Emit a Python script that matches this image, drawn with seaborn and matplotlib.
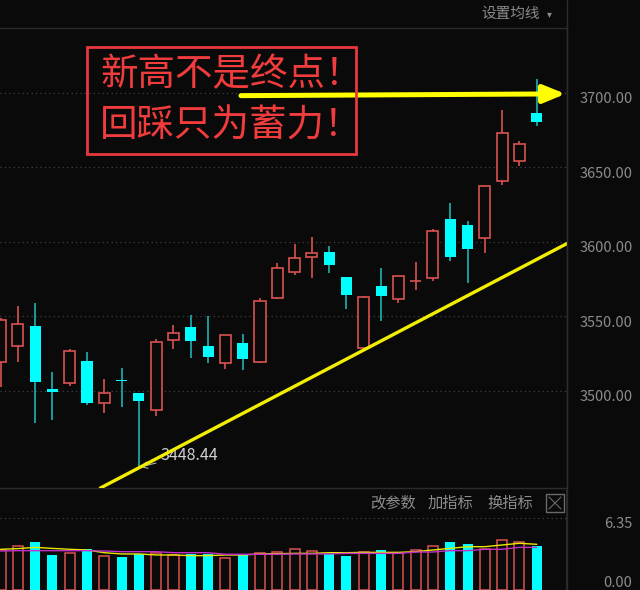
import numpy as np
import pandas as pd
import matplotlib
matplotlib.use("Agg")
import matplotlib.pyplot as plt
import matplotlib.transforms as mtransforms
from matplotlib.patches import Rectangle
from matplotlib.lines import Line2D
import seaborn as sns

# K线数据
opens = [3519.5, 3530.2, 3543.6, 3501.3, 3505.4, 3520.1, 3491.9, 3507.6,
         3498.7, 3487.2, 3534.2, 3543.0, 3530.2, 3518.8, 3532.2, 3519.5,
         3562.4, 3579.9, 3589.9, 3593.3, 3576.5, 3528.9, 3570.5, 3561.7,
         3573.6, 3575.8, 3615.4, 3611.4, 3602.7, 3640.9, 3654.4, 3686.6]
highs = [3549.0, 3557.0, 3559.1, 3512.8, 3528.2, 3526.2, 3508.1, 3515.4,
         3498.9, 3534.9, 3544.3, 3551.0, 3550.3, 3537.9, 3538.3, 3562.4,
         3585.9, 3598.7, 3603.4, 3597.3, 3576.8, 3563.8, 3582.6, 3577.5,
         3586.6, 3608.7, 3626.2, 3614.1, 3638.0, 3688.6, 3667.8, 3709.4]
lows = [3502.7, 3519.5, 3478.5, 3480.5, 3503.4, 3490.6, 3485.2, 3489.3,
        3448.44, 3483.2, 3528.2, 3522.1, 3518.8, 3514.8, 3514.1, 3518.8,
        3562.0, 3577.9, 3575.8, 3579.2, 3555.0, 3526.8, 3547.0, 3559.1,
        3567.8, 3573.8, 3587.2, 3572.5, 3592.6, 3638.3, 3651.0, 3677.9]
closes = [3547.7, 3545.0, 3506.0, 3499.3, 3526.8, 3491.9, 3498.7, 3507.0,
          3493.4, 3532.9, 3538.9, 3533.6, 3522.8, 3537.6, 3521.5, 3560.4,
          3582.6, 3589.3, 3592.6, 3584.6, 3564.4, 3563.1, 3563.8, 3577.2,
          3574.0, 3607.4, 3589.9, 3595.3, 3637.6, 3673.2, 3665.8, 3680.5]

# 成交量及均线
volume = [3.53, 3.88, 4.26, 3.09, 3.29, 3.59, 3.00, 2.88, 3.15, 3.24, 3.09,
          3.18, 3.18, 2.80, 3.18, 3.29, 3.38, 3.59, 3.44, 3.18, 3.03, 3.38,
          3.53, 3.29, 3.53, 3.88, 4.26, 4.06, 3.59, 4.41, 4.23, 3.91]
vol_ma_yellow = [3.59, 3.65, 3.76, 3.67, 3.59, 3.53, 3.29, 3.18, 3.18, 3.09,
                 3.09, 3.03, 3.03, 3.09, 3.09, 3.18, 3.20, 3.23, 3.23, 3.29,
                 3.29, 3.32, 3.32, 3.32, 3.38, 3.53, 3.67, 3.82, 3.82, 3.97,
                 4.12, 4.03]
vol_ma_purple = [3.44, 3.47, 3.47, 3.47, 3.47, 3.47, 3.44, 3.38, 3.38, 3.38,
                 3.29, 3.29, 3.29, 3.15, 3.15, 3.15, 3.15, 3.18, 3.18, 3.18,
                 3.23, 3.23, 3.23, 3.23, 3.35, 3.35, 3.47, 3.47, 3.59, 3.59,
                 3.76, 3.76]

price_ticks = [3500, 3550, 3600, 3650, 3700]
vol_ticks = [0.0, 6.35]

# 支撑线经过的两个低点
trend_a = (8, 3448.44)
trend_b = (21, 3527.5)
low_label = "3448.44"

title_lines = ["新高不是终点！", "回踩只为蓄力！"]
menu_labels = ["改参数", "加指标", "换指标"]
header_label = "设置均线"

BG = "#0a0a0a"
RED = "#d9534f"
CYAN = "#00ffff"
CYAN_WICK = "#1fb3b3"
GRAY = "#8c8c8c"
LINE = "#2c2c2c"
YELLOW = "#ffff00"

sns.set_theme(style="dark", rc={
    "figure.facecolor": BG,
    "axes.facecolor": BG,
    "axes.edgecolor": LINE,
    "grid.color": "#4a4a4a",
    "text.color": GRAY,
    "xtick.color": GRAY,
    "ytick.color": GRAY,
})
plt.rcParams["font.family"] = ["Noto Sans CJK SC", "DejaVu Sans"]

W, H = 640, 590
fig = plt.figure(figsize=(6.4, 5.9), dpi=100)


def box(x0, y0, x1, y1):
    return [x0 / W, 1 - y1 / H, (x1 - x0) / W, (y1 - y0) / H]


ax = fig.add_axes(box(0, 28, 567, 488))
axv = fig.add_axes(box(0, 490, 567, 590))

df = pd.DataFrame({"o": opens, "h": highs, "l": lows, "c": closes, "v": volume})
df["i"] = np.arange(len(df))
df["up"] = df["c"] >= df["o"]
df["top"] = df[["o", "c"]].max(axis=1)
df["bot"] = df[["o", "c"]].min(axis=1)

body_w = 0.64
up = df[df["up"]]
dn = df[~df["up"]]

# 阴线: 实心青色
ax.vlines(dn["i"], dn["l"], dn["h"], color=CYAN_WICK, lw=1.2, zorder=2)
ax.bar(dn["i"], (dn["top"] - dn["bot"]).clip(lower=0.4), bottom=dn["bot"],
       width=body_w, color=CYAN, lw=0, zorder=3)
# 阳线: 空心红色
ax.vlines(up["i"], up["top"], up["h"], color=RED, lw=1.2, zorder=2)
ax.vlines(up["i"], up["l"], up["bot"], color=RED, lw=1.2, zorder=2)
ax.bar(up["i"], (up["top"] - up["bot"]).clip(lower=0.4), bottom=up["bot"],
       width=body_w, facecolor=BG, edgecolor=RED, lw=1.2, zorder=3)

# 支撑线
ax.axline(trend_a, trend_b, color="#f2ee00", lw=2.4, zorder=4)

# 最低点标注
ax.annotate(low_label, xy=(trend_a[0] + 0.05, trend_a[1] + 0.6),
            xytext=(trend_a[0] + 1.25, trend_a[1] + 8.5),
            color="#d0d0d0", fontsize=11.5, ha="left", va="center",
            arrowprops=dict(arrowstyle="->", color="#b0b0b0", lw=0.8,
                            shrinkA=1, shrinkB=0))

# 新高箭头
ax.annotate("", xy=(32.66, 3699.4), xytext=(13.9, 3698.2),
            arrowprops=dict(arrowstyle="-|>,head_length=1.1,head_width=0.45",
                            color=YELLOW, lw=3.6, shrinkA=0, shrinkB=0),
            zorder=5)

ax.set_xlim(-0.03, 32.75)
ax.set_ylim(3434.9, 3743.6)
ax.set_xticks([])
ax.set_yticks(price_ticks)
ax.set_yticklabels([f"{t:.2f}" for t in price_ticks])
ax.grid(axis="y", color="#4a4a4a", linestyle=(0, (1, 3)), lw=0.8)
ax.grid(axis="x", visible=False)
ax.yaxis.tick_right()
ax.tick_params(axis="y", length=0, pad=47.5, labelsize=10.5, colors=GRAY)
shift = mtransforms.ScaledTranslation(0, -3.5 / 72, fig.dpi_scale_trans)
for lab in ax.get_yticklabels():
    lab.set_ha("right")
    lab.set_transform(lab.get_transform() + shift)
ax.spines["left"].set_visible(False)
for side in ["top", "bottom", "right"]:
    ax.spines[side].set_color(LINE)
    ax.spines[side].set_linewidth(1)

# 成交量
vup = df[df["up"]]
vdn = df[~df["up"]]
axv.bar(vdn["i"], vdn["v"], width=0.58, color=CYAN, lw=0, zorder=2)
axv.bar(vup["i"], vup["v"], width=0.58, facecolor=BG, edgecolor=RED,
        lw=1.1, zorder=2)
sns.lineplot(x=df["i"], y=vol_ma_yellow, ax=axv, color="#e8e800", lw=1.0,
             zorder=4)
sns.lineplot(x=df["i"], y=vol_ma_purple, ax=axv, color="#c030c8", lw=1.0,
             zorder=4)
axv.set_xlim(-0.03, 32.75)
axv.set_ylim(0, 8.82)
axv.set_xticks([])
axv.set_xlabel("")
axv.set_ylabel("")
axv.set_yticks(vol_ticks)
axv.set_yticklabels([f"{t:.2f}" for t in vol_ticks])
axv.grid(axis="y", color="#4a4a4a", linestyle=(0, (1, 3)), lw=0.8)
axv.grid(axis="x", visible=False)
axv.yaxis.tick_right()
axv.tick_params(axis="y", length=0, pad=47, labelsize=10.5, colors=GRAY)
vlabs = axv.get_yticklabels()
vlabs[0].set_va("bottom")
vlabs[1].set_transform(vlabs[1].get_transform() + shift)
for lab in vlabs:
    lab.set_ha("right")
for side in ["left", "top", "bottom"]:
    axv.spines[side].set_visible(False)
axv.spines["right"].set_color(LINE)

# 右侧竖分隔线
fig.add_artist(Line2D([567 / W, 567 / W], [0, 1], color=LINE, lw=1))

# 顶部 "设置均线"
fig.text(540 / W, 1 - 14 / H, header_label, color=GRAY, fontsize=10.5,
         ha="right", va="center")
fig.text(549 / W, 1 - 14 / H, "▾", color=GRAY, fontsize=7, ha="center",
         va="center", family=["DejaVu Sans"])

# 指标按钮
for lab, x in zip(menu_labels, [370, 428, 487]):
    fig.text(x / W, 1 - 503 / H, lab, color=GRAY, fontsize=11, ha="left",
             va="center")
fig.add_artist(Rectangle((546 / W, 1 - 512 / H), 18 / W, 18 / H,
                         transform=fig.transFigure, fill=False,
                         edgecolor="#6a6a6a", lw=1))
fig.add_artist(Line2D([549 / W, 561 / W], [1 - 497 / H, 1 - 509 / H],
                      color="#6a6a6a", lw=0.8))
fig.add_artist(Line2D([549 / W, 561 / W], [1 - 509 / H, 1 - 497 / H],
                      color="#6a6a6a", lw=0.8))

# 红框文字
fig.add_artist(Rectangle((87 / W, 1 - 154 / H), 269 / W, 107 / H,
                         transform=fig.transFigure, fill=False,
                         edgecolor="#e8383d", lw=2, zorder=10))
for line, y in zip(title_lines, [75, 126]):
    fig.text(100 / W, 1 - y / H, line, color="#f03c3c", fontsize=27,
             ha="left", va="center", zorder=11)

fig.savefig("out.png", dpi=100, facecolor=BG)
